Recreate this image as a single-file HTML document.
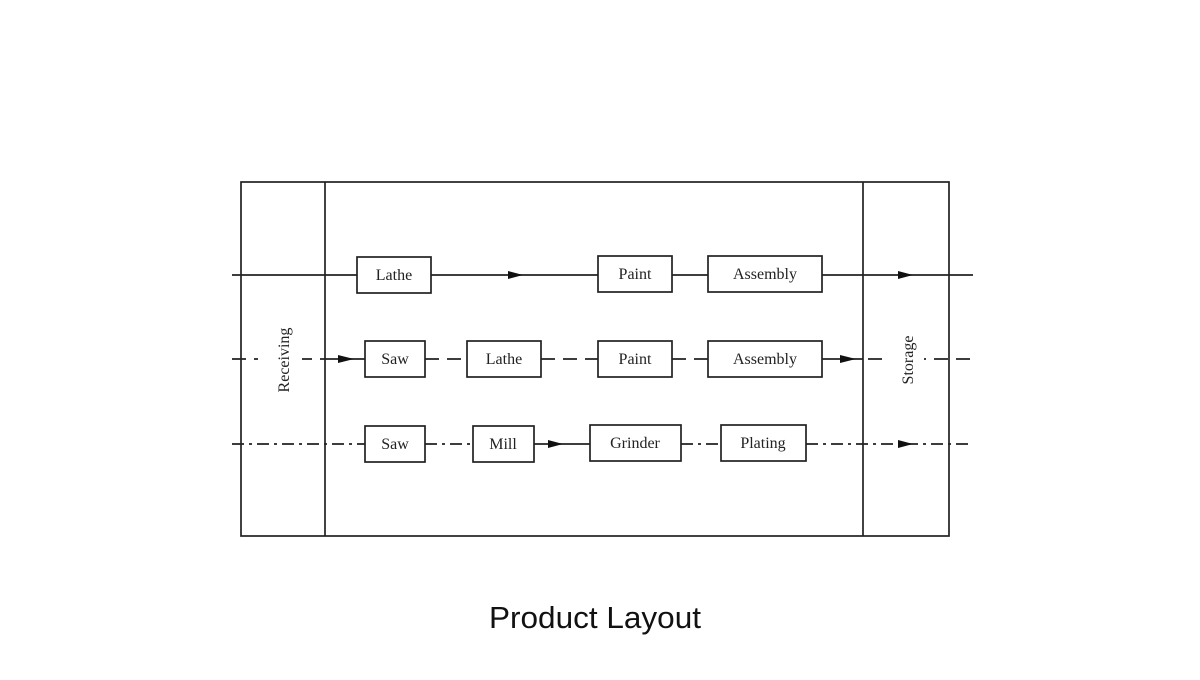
<!DOCTYPE html>
<html><head><style>
body{margin:0;background:#fff;width:1200px;height:675px;overflow:hidden}
</style></head><body>
<svg width="1200" height="675" xmlns="http://www.w3.org/2000/svg" font-family="Liberation Serif, serif" font-size="16" fill="none" stroke="#222" stroke-width="1.7">
<rect x="241" y="182" width="708" height="354"/>
<line x1="325" y1="182" x2="325" y2="536"/>
<line x1="863" y1="182" x2="863" y2="536"/>
<!-- row1 solid -->
<line x1="232" y1="275" x2="357" y2="275"/>
<line x1="431" y1="275" x2="598" y2="275"/>
<line x1="672" y1="275" x2="708" y2="275"/>
<line x1="822" y1="275" x2="973" y2="275"/>
<!-- row2 dashed -->
<g stroke-dasharray="14,8">
<line x1="232" y1="359" x2="330" y2="359"/>
<line x1="425" y1="359" x2="467" y2="359"/>
<line x1="541" y1="359" x2="598" y2="359"/>
<line x1="672" y1="359" x2="708" y2="359"/>
<line x1="868" y1="359" x2="973" y2="359"/>
</g>
<line x1="330" y1="359" x2="365" y2="359"/>
<line x1="822" y1="359" x2="863" y2="359"/>
<!-- row3 dash-dot -->
<g stroke-dasharray="12,5,3,5">
<line x1="232" y1="444" x2="365" y2="444"/>
<line x1="425" y1="444" x2="473" y2="444"/>
<line x1="681" y1="444" x2="721" y2="444"/>
<line x1="806" y1="444" x2="973" y2="444"/>
</g>
<line x1="534" y1="444" x2="590" y2="444"/>
<g fill="#111" stroke="none">
<polygon points="508,271 523,275 508,279"/>
<polygon points="898,271 913,275 898,279"/>
<polygon points="338,355 354,359 338,363"/>
<polygon points="840,355 856,359 840,363"/>
<polygon points="548,440 563,444 548,448"/>
<polygon points="898,440 913,444 898,448"/>
</g>
<g fill="#fff">
<rect x="357" y="257" width="74" height="36"/>
<rect x="598" y="256" width="74" height="36"/>
<rect x="708" y="256" width="114" height="36"/>
<rect x="365" y="341" width="60" height="36"/>
<rect x="467" y="341" width="74" height="36"/>
<rect x="598" y="341" width="74" height="36"/>
<rect x="708" y="341" width="114" height="36"/>
<rect x="365" y="426" width="60" height="36"/>
<rect x="473" y="426" width="61" height="36"/>
<rect x="590" y="425" width="91" height="36"/>
<rect x="721" y="425" width="85" height="36"/>
<rect x="258" y="350" width="44" height="18" stroke="none"/>
<rect x="886" y="350" width="38" height="18" stroke="none"/>
</g>
<g fill="#222" stroke="none" text-anchor="middle">
<text x="394" y="280">Lathe</text>
<text x="635" y="279">Paint</text>
<text x="765" y="279">Assembly</text>
<text x="395" y="364">Saw</text>
<text x="504" y="364">Lathe</text>
<text x="635" y="364">Paint</text>
<text x="765" y="364">Assembly</text>
<text x="395" y="449">Saw</text>
<text x="503" y="449">Mill</text>
<text x="635" y="448">Grinder</text>
<text x="763" y="448">Plating</text>
<text transform="translate(289,360) rotate(-90)">Receiving</text>
<text transform="translate(913,360) rotate(-90)">Storage</text>
<text x="595" y="628" font-family="Liberation Sans, sans-serif" font-size="31" fill="#111" textLength="212" lengthAdjust="spacingAndGlyphs">Product Layout</text>
</g>
</svg>
</body></html>
